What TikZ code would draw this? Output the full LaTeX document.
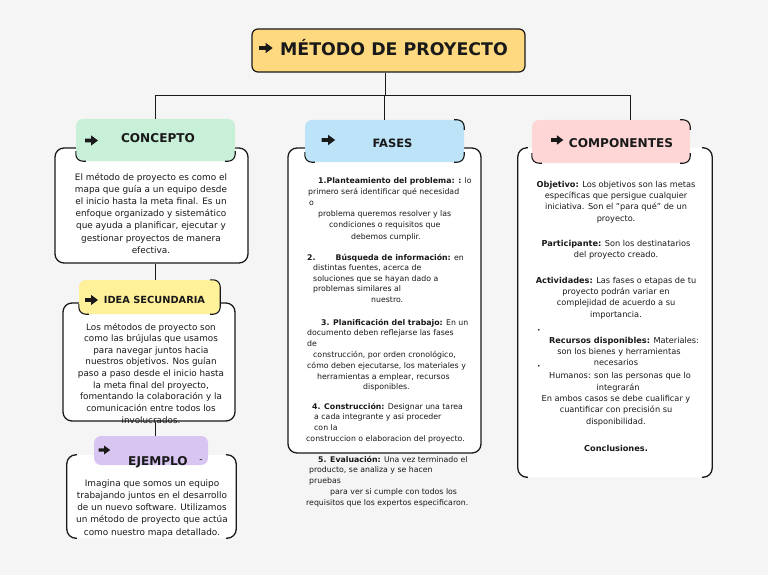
\documentclass[tikz,border=0pt]{standalone}
\usepackage{fontspec}
\setmainfont{DejaVu Sans}
\usetikzlibrary{calc}
\definecolor{bg}{RGB}{245,245,245}
\definecolor{ctitle}{RGB}{255,217,128}
\definecolor{cgreen}{RGB}{200,240,216}
\definecolor{cyellow}{RGB}{255,240,154}
\definecolor{clav}{RGB}{216,197,242}
\definecolor{cblue}{RGB}{189,227,248}
\definecolor{cpink}{RGB}{255,214,214}
\definecolor{ink}{RGB}{25,25,25}
\newcommand\hdrarrow[3]{% x, y, scale
  \fill[ink, line join=round, shift={(#1,#2)}, scale=#3]
    (0,-1.9) -- (6.2,-1.9) -- (6.2,-5) -- (13,0) -- (6.2,5) -- (6.2,1.9) -- (0,1.9) -- cycle;}
% partial outlines: #1 node, #2 clip regions, #3 radius, #4 line width
\newcommand\partline[4]{%
  \begin{scope}
    \clip[#2];
    \draw[ink, line width=#4, rounded corners=#3] (#1.south west) rectangle (#1.north east);
  \end{scope}}
\tikzset{
  cBL/.style={insert path={($(#1.south west)+(-3,3)$) rectangle ($(#1.south west)+(10,-10)$)}},
  cBR/.style={insert path={($(#1.south east)+(3,3)$) rectangle ($(#1.south east)+(-10,-10)$)}},
  cTR/.style={insert path={($(#1.north east)+(3,-3)$) rectangle ($(#1.north east)+(-10,10)$)}},
  sideL/.style={insert path={($(#1.north west)+(-3,-3)$) rectangle ($(#1.south west)+(10,3)$)}},
  sideR/.style={insert path={($(#1.north east)+(3,-3)$) rectangle ($(#1.south east)+(-10,3)$)}},
  body/.style={draw=ink, line width=1.3pt, rounded corners=9pt, fill=white, inner sep=0pt},
  bodyopen/.style={rounded corners=9pt, fill=white, inner sep=0pt},
  hdr/.style={rounded corners=7pt, inner sep=0pt},
  conn/.style={draw=ink, line width=0.8pt},
  txt/.style={inner sep=0pt, text=ink},
  htxt/.style={inner sep=0pt, text=ink, font=\bfseries\fontsize{12.1}{14}\selectfont},
  leftbody/.style={txt, align=center, anchor=base},
  fasesp/.style={txt, align=left, anchor=base west, font=\fontsize{7.8}{10.8}\selectfont},
  compp/.style={txt, align=center, anchor=base, font=\fontsize{8.2}{11.4}\selectfont}
}
\begin{document}
\begin{tikzpicture}[x=1pt,y=-1pt]
\useasboundingbox[fill=bg] (0,0) rectangle (768,575);

% bodies
\node[body, minimum width=193pt, minimum height=115pt] (bc) at (151.5,205.5) {};
\node[body, minimum width=172pt, minimum height=118pt] (bi) at (149,362) {};
\node[bodyopen, minimum width=169pt, minimum height=83pt] (be) at (151.5,496.5) {};
\partline{be}{sideL=be, sideR=be}{9pt}{1.3pt}
\node[body, minimum width=193pt, minimum height=305pt] (bf) at (384.5,300.5) {};
\node[bodyopen, minimum width=194pt, minimum height=329pt] (bk) at (615,312.5) {};
\partline{bk}{sideL=bk, sideR=bk}{9pt}{1.3pt}

% headers
\node[draw=ink, line width=1.2pt, fill=ctitle, rounded corners=6pt, minimum width=273pt, minimum height=43pt] (title) at (388.5,50.5) {};
\node[hdr, fill=cgreen, minimum width=159pt, minimum height=42pt] (hc) at (155.5,140) {};
\partline{hc}{cBL=hc, cBR=hc}{7pt}{1.1pt}
\node[hdr, fill=cyellow, minimum width=141pt, minimum height=34pt] (hi) at (149.5,297) {};
\partline{hi}{sideR=hi, cBL=hi}{7pt}{1.1pt}
\node[hdr, fill=clav, minimum width=114pt, minimum height=29pt] (he) at (151,450.5) {};
\node[hdr, fill=cblue, minimum width=159pt, minimum height=42pt] (hf) at (384.5,141) {};
\partline{hf}{cTR=hf, cBR=hf, cBL=hf}{7pt}{1.1pt}
\node[hdr, fill=cpink, minimum width=158pt, minimum height=43pt] (hk) at (611,141.5) {};
\partline{hk}{cTR=hk, cBR=hk, cBL=hk}{7pt}{1.1pt}

% connectors
\coordinate (j) at (385,95);
\coordinate (kc) at (630,120);
\draw[conn] (title.south -| j) -- (j);
\draw[conn] (hc.north) -- (hc.north |- j) -- (kc |- j) -- (kc);
\draw[conn] (hf.north |- j) -- (hf.north);
\draw[conn] (hc.north |- bc.south) -- (hc.north |- hi.north);
\draw[conn] (hc.north |- bi.south) -- (hc.north |- he.north);

% header arrows
\hdrarrow{259}{48}{1.05}
\hdrarrow{85}{140.5}{1}
\hdrarrow{321.5}{140}{1.05}
\hdrarrow{551}{140}{0.95}
\hdrarrow{85}{300}{1}
\hdrarrow{98.5}{450}{0.9}

% header texts
\node[txt, font=\bfseries\fontsize{17.4}{20}\selectfont] (tt) at (394,48) {MÉTODO DE PROYECTO};
\node[htxt] (tc) at (158,138) {CONCEPTO};
\node[htxt, font=\bfseries\fontsize{11.5}{14}\selectfont] (tf) at (392.5,143) {FASES};
\node[htxt] (tk) at (621,143) {COMPONENTES};
\node[htxt, font=\bfseries\fontsize{9.8}{12}\selectfont] (ti) at (154.5,300) {IDEA SECUNDARIA};
\node[htxt] (te) at (158,462) {EJEMPLO};
\node[txt, font=\fontsize{9}{9}\selectfont] (de) at (201,461) {-};

% left body texts (anchor = baseline of last line)
\node[leftbody, font=\fontsize{8.9}{12.2}\selectfont] (pc) at (151,253.2) {El método de proyecto es como el\\ mapa que guía a un equipo desde\\ el inicio hasta la meta final. Es un\\ enfoque organizado y sistemático\\ que ayuda a planificar, ejecutar y\\ gestionar proyectos de manera\\ efectiva.};
\node[leftbody, font=\fontsize{8.8}{11.65}\selectfont] (pi) at (151,423.2) {Los métodos de proyecto son\\ como las brújulas que usamos\\ para navegar juntos hacia\\ nuestros objetivos. Nos guían\\ paso a paso desde el inicio hasta\\ la meta final del proyecto,\\ fomentando la colaboración y la\\ comunicación entre todos los\\ involucrados.};
\node[leftbody, font=\fontsize{8.9}{12.25}\selectfont] (pe) at (152,535) {Imagina que somos un equipo\\ trabajando juntos en el desarrollo\\ de un nuevo software. Utilizamos\\ un método de proyecto que actúa\\ como nuestro mapa detallado.};

% FASES texts
\node[fasesp, font=\fontsize{7.8}{11.2}\selectfont] (f1) at (306,239) {\hspace*{12pt}\textbf{1.Planteamiento del problema: :} lo\\ \hspace*{2pt}primero será identificar qué necesidad\\ \hspace*{3pt}o\\ \hspace*{12pt}problema queremos resolver y las\\ \hspace*{23pt}condiciones o requisitos que\\ \hspace*{45pt}debemos cumplir.};
\node[fasesp, font=\fontsize{7.8}{10.6}\selectfont] (f2) at (306,302.4) {\hspace*{1pt}\textbf{2.}\hspace*{20pt}\textbf{Búsqueda de información:} en\\ \hspace*{7pt}distintas fuentes, acerca de\\ \hspace*{7pt}soluciones que se hayan dado a\\ \hspace*{7pt}problemas similares al\\ \hspace*{65pt}nuestro.};
\node[fasesp] (f3) at (306,389.8) {\hspace*{15pt}\textbf{3. Planificación del trabajo:} En un\\ \hspace*{1pt}documento deben reflejarse las fases\\ \hspace*{1pt}de\\ \hspace*{7pt}construcción, por orden cronológico,\\ \hspace*{1pt}cómo deben ejecutarse, los materiales y\\ \hspace*{11pt}herramientas a emplear, recursos\\ \hspace*{57pt}disponibles.};
\node[fasesp] (f4) at (306,441.4) {\hspace*{6pt}\textbf{4. Construcción:} Designar una tarea\\ \hspace*{8pt}a cada integrante y asi proceder\\ \hspace*{8pt}con la\\ construccion o elaboracion del proyecto.};
\node[fasesp] (f5) at (306,505.2) {\hspace*{12pt}\textbf{5. Evaluación:} Una vez terminado el\\ \hspace*{3pt}producto, se analiza y se hacen\\ \hspace*{3pt}pruebas\\ \hspace*{24pt}para ver si cumple con todos los\\ requisitos que los expertos especificaron.};

% COMPONENTES texts
\node[compp] (k1) at (616,221.2) {\textbf{Objetivo:} Los objetivos son las metas\\ específicas que persigue cualquier\\ iniciativa. Son el "para qué" de un\\ proyecto.};
\node[compp] (k2) at (616,257.4) {\textbf{Participante:} Son los destinatarios\\ del proyecto creado.};
\node[compp] (k3) at (616,317.2) {\textbf{Actividades:} Las fases o etapas de tu\\ proyecto podrán variar en\\ complejidad de acuerdo a su\\ importancia.};
\node[txt, font=\fontsize{6}{6}\selectfont] (bu1) at (539,331) {•};
\node[txt, font=\fontsize{6}{6}\selectfont] (bu2) at (539,367) {•};
\node[compp] (k4) at (616,424.3) {\hspace*{16pt}\textbf{Recursos disponibles:} Materiales:\\ \hspace*{6pt}son los bienes y herramientas\\ necesarios\\[1.5pt] \hspace*{8pt}Humanos: son las personas que lo\\ \hspace*{4pt}integrarán\\ En ambos casos se debe cualificar y\\ cuantificar con precisión su\\ disponibilidad.};
\node[compp] (k5) at (616,451) {\textbf{Conclusiones.}};
\end{tikzpicture}
\end{document}
